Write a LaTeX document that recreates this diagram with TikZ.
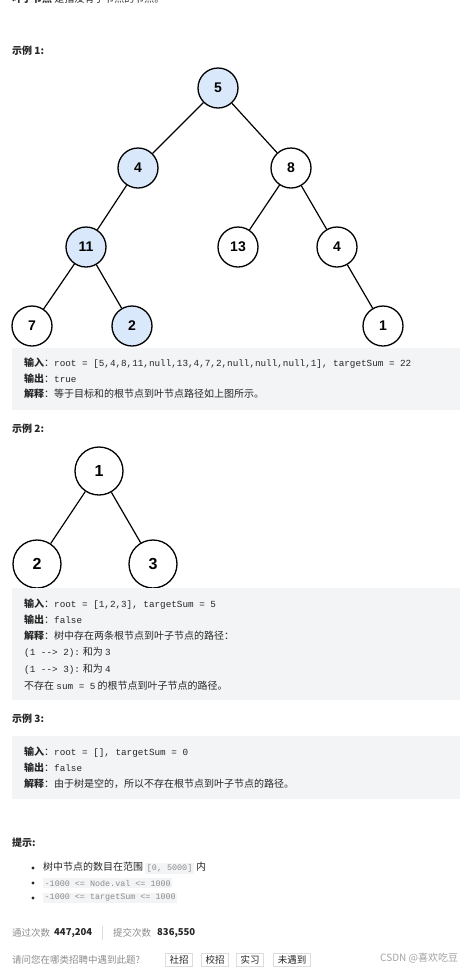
\documentclass[tikz,border=0pt]{standalone}
\usepackage{fontspec}
\setmainfont{Noto Sans CJK SC}
\setmonofont{Liberation Mono}
\newfontfamily\treefont{Liberation Sans}

\definecolor{pathblue}{HTML}{DAE8FC}
\definecolor{codebg}{HTML}{F3F4F5}
\definecolor{textdark}{HTML}{262626}
\definecolor{textgrey}{HTML}{8C8C8C}
\definecolor{linegrey}{HTML}{DDDDDD}

\newcommand{\cd}[1]{{\ttfamily\fontsize{9.3}{12}\selectfont #1}}
\newcommand{\hl}[1]{{\setlength{\fboxsep}{1.5pt}\colorbox{codebg}{\ttfamily\fontsize{8.4}{10}\selectfont\color{textgrey}#1}}}

\begin{document}
\begin{tikzpicture}[x=1pt,y=-1pt,
  treenode/.style={shape=circle, draw, line width=1.3pt, minimum size=40pt, inner sep=0pt,
    font=\treefont\bfseries\fontsize{14}{14}\selectfont},
  onpath/.style={treenode, fill=pathblue},
  bignode/.style={treenode, minimum size=48pt, font=\treefont\bfseries\fontsize{16}{16}\selectfont},
  edge/.style={line width=1.2pt},
  txt/.style={anchor=west, inner sep=0pt, text=textdark, font=\fontsize{10}{12}\selectfont},
  small/.style={txt, text=textgrey, font=\fontsize{9.5}{12}\selectfont},
  codebox/.style={fill=codebg, draw=none},
  btn/.style={draw=linegrey, line width=0.6pt, inner xsep=4pt, inner ysep=2pt, text=textdark,
    font=\fontsize{9.5}{12}\selectfont}]

\useasboundingbox (0,0) rectangle (474,967);
\clip (0,0) rectangle (474,967);
\fill[white] (0,0) rectangle (474,967);

% text above
\path (12,-1) node (intro) [txt] {\textbf{叶子节点} 是指没有子节点的节点。};

% example 1
\path (12,51) node (ex1) [txt] {\textbf{示例 1:}};

\path (218,88) node (a5) [onpath] {5};
\path (138,168) node (a4) [onpath] {4};
\path (291,168) node (a8) [treenode] {8};
\path (86,247) node (a11) [onpath] {11};
\path (238,247) node (a13) [treenode] {13};
\path (337,247) node (a4r) [treenode] {4};
\path (32,326) node (a7) [treenode] {7};
\path (132,326) node (a2) [onpath] {2};
\path (383,326) node (a1) [treenode] {1};

\draw[edge] (a5) -- (a4);
\draw[edge] (a5) -- (a8);
\draw[edge] (a4) -- (a11);
\draw[edge] (a8) -- (a13);
\draw[edge] (a8) -- (a4r);
\draw[edge] (a11) -- (a7);
\draw[edge] (a11) -- (a2);
\draw[edge] (a4r) -- (a1);

\fill[codebox] (12,348) rectangle (460,410);
\path (24,363) node (in1) [txt] {\textbf{输入}：\cd{root = [5,4,8,11,null,13,4,7,2,null,null,null,1], targetSum = 22}};
\path (24,379) node (out1) [txt] {\textbf{输出}：\cd{true}};
\path (24,394) node (exp1) [txt] {\textbf{解释}：等于目标和的根节点到叶节点路径如上图所示。};

% example 2
\path (12,429) node (ex2) [txt] {\textbf{示例 2:}};

\path (99,471) node (b1) [bignode] {1};
\path (37,564) node (b2) [bignode] {2};
\path (153,564) node (b3) [bignode] {3};

\draw[edge] (b1) -- (b2);
\draw[edge] (b1) -- (b3);

\fill[codebox] (12,588) rectangle (460,700);
\path (24,604) node (in2) [txt] {\textbf{输入}：\cd{root = [1,2,3], targetSum = 5}};
\path (24,620) node (out2) [txt] {\textbf{输出}：\cd{false}};
\path (24,636) node (exp2) [txt] {\textbf{解释}：树中存在两条根节点到叶子节点的路径：};
\path (24,652) node (p12) [txt] {\cd{(1 --> 2):} 和为 \cd{3}};
\path (24,669) node (p13) [txt] {\cd{(1 --> 3):} 和为 \cd{4}};
\path (24,686) node (none2) [txt] {不存在 \cd{sum = 5} 的根节点到叶子节点的路径。};

% example 3
\path (12,719) node (ex3) [txt] {\textbf{示例 3:}};

\fill[codebox] (12,736) rectangle (460,799);
\path (24,752) node (in3) [txt] {\textbf{输入}：\cd{root = [], targetSum = 0}};
\path (24,768) node (out3) [txt] {\textbf{输出}：\cd{false}};
\path (24,784) node (exp3) [txt] {\textbf{解释}：由于树是空的，所以不存在根节点到叶子节点的路径。};

% hints
\path (12,843) node (hint) [txt] {\textbf{提示:}};
\foreach \yy in {868,883,898}
  \fill[textdark] (33,\yy) circle (1.6pt);
\path (43,868) node (h1) [txt] {树中节点的数目在范围 \hl{[0, 5000]} 内};
\path (43,883) node (h2) [txt] {\hl{-1000 <= Node.val <= 1000}};
\path (43,898) node (h3) [txt] {\hl{-1000 <= targetSum <= 1000}};

% stats
\path (12,933) node (pass) [small] {通过次数};
\path (54,933) node (passn) [txt, font=\fontsize{9.5}{12}\selectfont\bfseries] {447,204};
\draw[linegrey, line width=0.6pt] (102,926) -- (102,940);
\path (113,933) node (sub) [small] {提交次数};
\path (157,933) node (subn) [txt, font=\fontsize{9.5}{12}\selectfont\bfseries] {836,550};

\path (12,960) node (ask) [small] {请问您在哪类招聘中遇到此题?};
\path (179,960) node (s1) [btn] {社招};
\path (215,960) node (s2) [btn] {校招};
\path (250,960) node (s3) [btn] {实习};
\path (292,960) node (s4) [btn] {未遇到};

\path (380,958) node (mark) [txt, text=textgrey!80, font=\fontsize{10}{12}\selectfont] {CSDN @喜欢吃豆};

\end{tikzpicture}
\end{document}
